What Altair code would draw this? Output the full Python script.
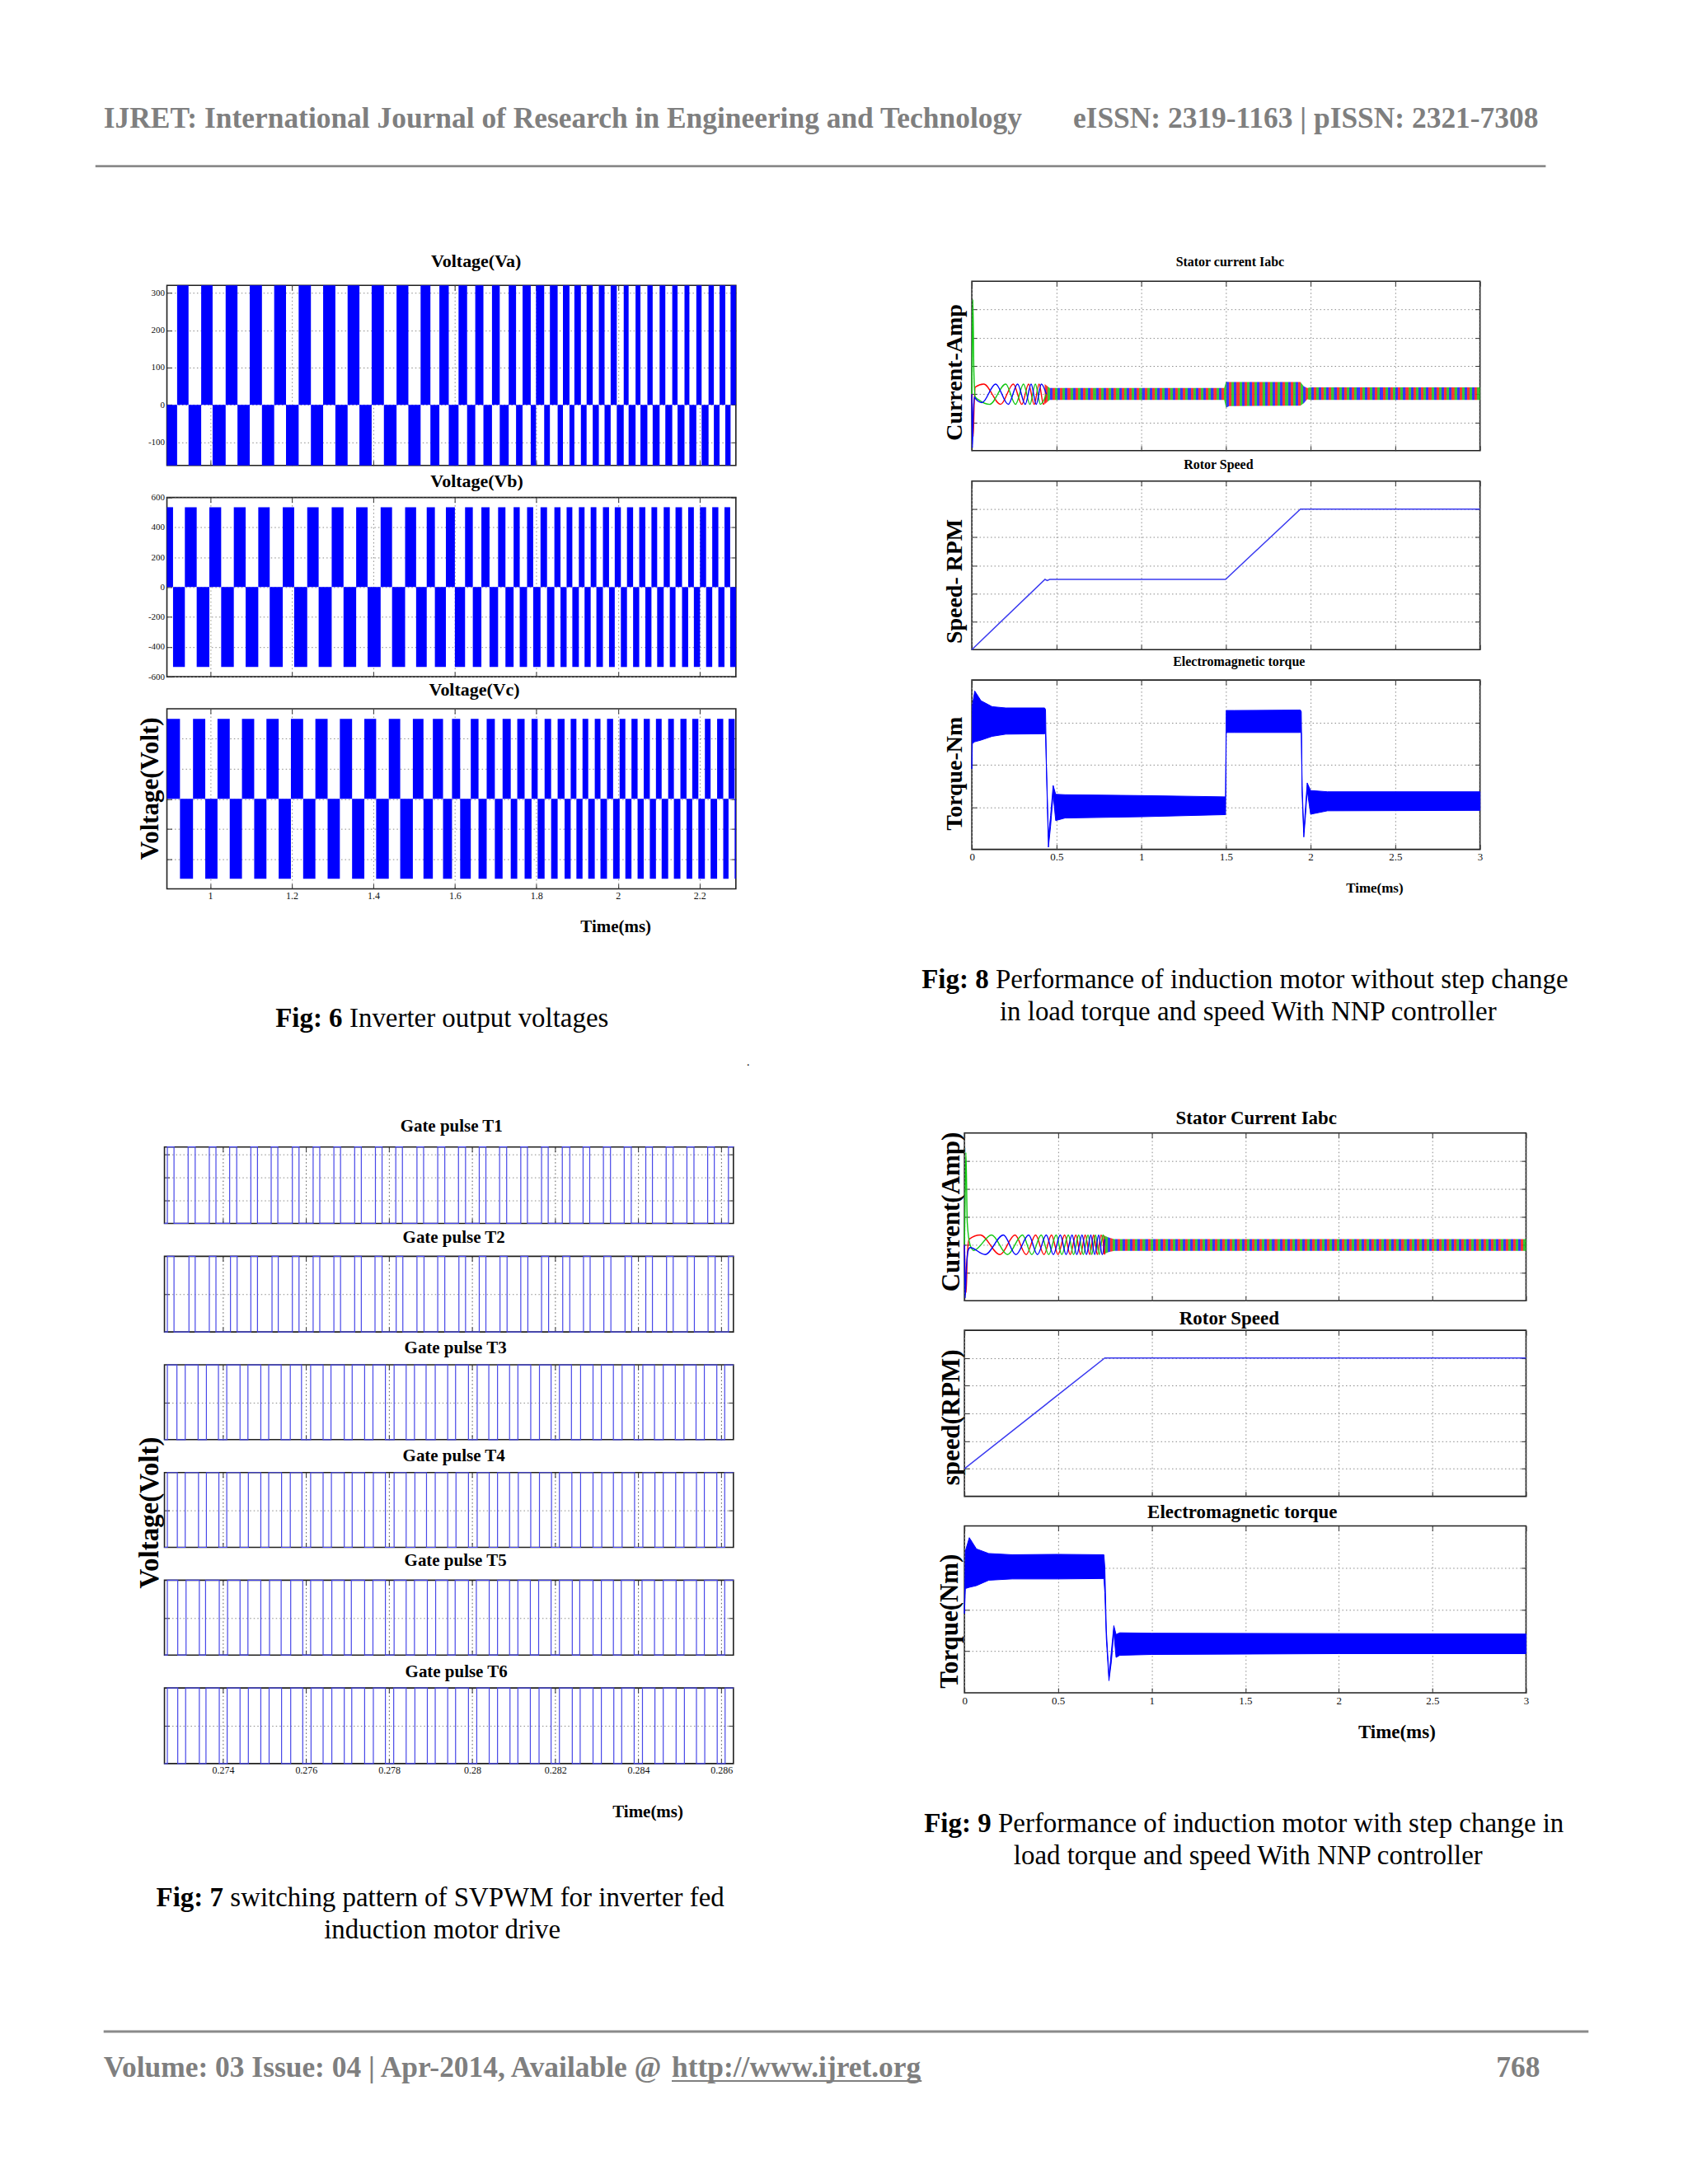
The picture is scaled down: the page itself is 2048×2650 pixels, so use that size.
import altair as alt
import pandas as pd

SERIF = "Liberation Serif"
BLUE = "#0000ff"
GATE_BLUE = "#4848e8"
SPEED_BLUE = "#3a3af0"
RED = "#ff0000"
GREEN = "#12c812"
GRID = "#8a8a8a"
TICK = "#333333"
FRAME = "#202020"
GRAY = "#7f7f7f"

# ---------------- Fig 6: inverter output voltages (switching instants, ms) ----------------
fig6_xdomain = [0.894, 2.289]
fig6_xticks = [1.0, 1.2, 1.4, 1.6, 1.8, 2.0, 2.2]

va_edges = [0.894, 0.919, 0.947, 0.978, 1.006, 1.038, 1.067, 1.097, 1.127, 1.157, 1.186, 1.217,
            1.247, 1.277, 1.307, 1.337, 1.366, 1.396, 1.426, 1.457, 1.486, 1.516, 1.540, 1.562,
            1.585, 1.609, 1.630, 1.650, 1.670, 1.691, 1.710, 1.732, 1.750, 1.766, 1.786, 1.799,
            1.819, 1.833, 1.852, 1.865, 1.881, 1.893, 1.909, 1.923, 1.938, 1.953, 1.967, 1.982,
            1.997, 2.014, 2.026, 2.043, 2.055, 2.072, 2.085, 2.102, 2.116, 2.133, 2.146, 2.163,
            2.175, 2.192, 2.205, 2.222, 2.235, 2.249, 2.263, 2.276, 2.289]
va_starts_high = False
va_levels = [320, -162]
va_ydomain = [-162, 320]
va_yticks = [300, 200, 100, 0, -100]

vb_edges = [0.894, 0.909, 0.938, 0.967, 0.998, 1.027, 1.058, 1.087, 1.118, 1.146, 1.178, 1.206,
            1.238, 1.266, 1.298, 1.327, 1.358, 1.386, 1.418, 1.446, 1.478, 1.505, 1.531, 1.551,
            1.578, 1.600, 1.625, 1.644, 1.665, 1.685, 1.706, 1.724, 1.744, 1.759, 1.777, 1.792,
            1.810, 1.826, 1.844, 1.859, 1.874, 1.888, 1.904, 1.918, 1.933, 1.947, 1.963, 1.978,
            1.992, 2.007, 2.022, 2.037, 2.052, 2.067, 2.082, 2.096, 2.112, 2.127, 2.141, 2.157,
            2.172, 2.186, 2.201, 2.216, 2.231, 2.246, 2.261, 2.275, 2.289]
vb_starts_high = True
vb_levels = [535, -535]
vb_ydomain = [-600, 600]
vb_yticks = [600, 400, 200, 0, -200, -400, -600]

vc_edges = [0.894, 0.926, 0.958, 0.988, 1.018, 1.048, 1.078, 1.108, 1.138, 1.168, 1.198, 1.228,
            1.258, 1.288, 1.318, 1.348, 1.378, 1.407, 1.438, 1.466, 1.497, 1.523, 1.546, 1.571,
            1.593, 1.613, 1.639, 1.658, 1.678, 1.698, 1.717, 1.737, 1.753, 1.771, 1.788, 1.803,
            1.820, 1.836, 1.852, 1.869, 1.884, 1.898, 1.913, 1.927, 1.943, 1.957, 1.973, 1.988,
            2.004, 2.018, 2.033, 2.048, 2.063, 2.078, 2.093, 2.107, 2.123, 2.137, 2.153, 2.168,
            2.182, 2.197, 2.213, 2.227, 2.243, 2.258, 2.271, 2.286, 2.289]
vc_starts_high = True
vc_levels = [533, -533]
vc_ydomain = [-600, 600]
vc_yticks = [400, 200, 0, -200, -400]

# ---------------- Fig 7: gate pulses (edge instants, ms) ----------------
fig7_xdomain = [0.27259, 0.28629]
fig7_xticks = [0.274, 0.276, 0.278, 0.28, 0.282, 0.284, 0.286]
gate_ydomain = [0, 1]
t1_yticks = [0.3, 0.6, 0.9]
gate_yticks = [0.5]

t1_edges = [0.27266, 0.27282, 0.27316, 0.27333, 0.27367, 0.27383, 0.27416, 0.27433, 0.27467, 0.27483,
            0.27516, 0.27532, 0.27567, 0.27583, 0.27617, 0.27633, 0.27667, 0.27683, 0.27717, 0.27733,
            0.27767, 0.27783, 0.27816, 0.27832, 0.27867, 0.27883, 0.27917, 0.27934, 0.27967, 0.27984,
            0.28017, 0.28033, 0.28066, 0.28083, 0.28117, 0.28133, 0.28167, 0.28183, 0.28217, 0.28235,
            0.28267, 0.28283, 0.28316, 0.28333, 0.28366, 0.28383, 0.28418, 0.28434, 0.28467, 0.28484,
            0.28517, 0.28534, 0.28567, 0.28583, 0.28617]
t2_edges = [0.27266, 0.27282, 0.27318, 0.27333, 0.27367, 0.27383, 0.27418, 0.27434, 0.27467, 0.27483,
            0.27518, 0.27533, 0.27567, 0.27583, 0.27617, 0.27633, 0.27667, 0.27683, 0.27717, 0.27733,
            0.27766, 0.27783, 0.27817, 0.27833, 0.27867, 0.27884, 0.27917, 0.27934, 0.27968, 0.27984,
            0.28017, 0.28033, 0.28067, 0.28084, 0.28117, 0.28134, 0.28167, 0.28184, 0.28218, 0.28235,
            0.28268, 0.28284, 0.28317, 0.28334, 0.28368, 0.28384, 0.28418, 0.28434, 0.28468, 0.28484,
            0.28518, 0.28535, 0.28568, 0.28585, 0.28617]
t3_edges = [0.27266, 0.27289, 0.27309, 0.27340, 0.27360, 0.27389, 0.27409, 0.27441, 0.27460, 0.27491,
            0.27510, 0.27540, 0.27562, 0.27589, 0.27611, 0.27641, 0.27660, 0.27692, 0.27711, 0.27741,
            0.27761, 0.27791, 0.27812, 0.27841, 0.27861, 0.27889, 0.27911, 0.27941, 0.27960, 0.27991,
            0.28012, 0.28040, 0.28061, 0.28090, 0.28110, 0.28141, 0.28162, 0.28190, 0.28210, 0.28239,
            0.28261, 0.28291, 0.28311, 0.28340, 0.28361, 0.28390, 0.28411, 0.28439, 0.28460, 0.28489,
            0.28510, 0.28539, 0.28559, 0.28589, 0.28608]
t4_edges = [0.27266, 0.27290, 0.27309, 0.27341, 0.27360, 0.27390, 0.27409, 0.27441, 0.27461, 0.27491,
            0.27510, 0.27541, 0.27562, 0.27590, 0.27611, 0.27641, 0.27661, 0.27692, 0.27711, 0.27741,
            0.27762, 0.27791, 0.27812, 0.27841, 0.27862, 0.27890, 0.27911, 0.27941, 0.27961, 0.27991,
            0.28012, 0.28041, 0.28061, 0.28090, 0.28111, 0.28141, 0.28162, 0.28191, 0.28210, 0.28240,
            0.28261, 0.28291, 0.28312, 0.28340, 0.28361, 0.28391, 0.28411, 0.28440, 0.28460, 0.28490,
            0.28510, 0.28540, 0.28559, 0.28589, 0.28608]
t5_edges = [0.27266, 0.27291, 0.27311, 0.27343, 0.27358, 0.27391, 0.27411, 0.27441, 0.27460, 0.27491,
            0.27512, 0.27540, 0.27563, 0.27592, 0.27611, 0.27641, 0.27662, 0.27692, 0.27709, 0.27741,
            0.27761, 0.27791, 0.27812, 0.27841, 0.27861, 0.27892, 0.27912, 0.27941, 0.27959, 0.27991,
            0.28010, 0.28041, 0.28061, 0.28090, 0.28110, 0.28140, 0.28160, 0.28190, 0.28210, 0.28241,
            0.28259, 0.28291, 0.28311, 0.28340, 0.28359, 0.28390, 0.28409, 0.28439, 0.28460, 0.28491,
            0.28510, 0.28540, 0.28559, 0.28590, 0.28608]
t6_edges = [0.27266, 0.27291, 0.27310, 0.27343, 0.27359, 0.27391, 0.27410, 0.27441, 0.27461, 0.27491,
            0.27511, 0.27541, 0.27563, 0.27592, 0.27612, 0.27641, 0.27662, 0.27692, 0.27710, 0.27741,
            0.27762, 0.27791, 0.27811, 0.27841, 0.27862, 0.27892, 0.27911, 0.27941, 0.27960, 0.27991,
            0.28011, 0.28041, 0.28061, 0.28091, 0.28110, 0.28140, 0.28161, 0.28190, 0.28210, 0.28241,
            0.28260, 0.28291, 0.28311, 0.28341, 0.28360, 0.28390, 0.28410, 0.28440, 0.28460, 0.28491,
            0.28511, 0.28540, 0.28560, 0.28590, 0.28609]

# ---------------- Fig 8 / Fig 9: motor performance (time in ms) ----------------
time_domain = [0, 3]
time_ticks = [0, 0.5, 1, 1.5, 2, 2.5, 3]
current_domain = [-20, 40]
current_ticks = [-10, 0, 10, 20, 30]
speed_domain = [0, 1200]
speed_ticks = [200, 400, 600, 800, 1000]
torque_domain = [-10, 30]
torque_ticks = [0, 10, 20]

# Fig 8 stator currents: start-up transient and first cycles (extrema)
cur8_red_t = [0, 0.004, 0.008, 0.014, 0.02, 0.07, 0.17, 0.245, 0.295, 0.335, 0.368, 0.397, 0.423, 0.44]
cur8_red_v = [0, -8, -15, -3, 2.5, 3.6, -3.6, 3.6, -3.6, 3.6, -3.6, 3.6, -3.6, 0]
cur8_grn_t = [0, 0.003, 0.006, 0.012, 0.02, 0.04, 0.105, 0.2, 0.258, 0.305, 0.343, 0.375, 0.405, 0.44]
cur8_grn_v = [0, 20, 33.5, 8, -1, -2, -3.6, 3.6, -3.6, 3.6, -3.6, 3.6, -3.6, 0]
cur8_blu_t = [0, 0.003, 0.008, 0.015, 0.02, 0.06, 0.14, 0.215, 0.27, 0.315, 0.35, 0.38, 0.41, 0.44]
cur8_blu_v = [0, -19, -8, -1, -1.5, -3, 3.6, -3.6, 3.6, -3.6, 3.6, -3.6, 3.6, 0]
# Fig 8 stator currents: envelope of the dense steady-state part
cur8_band_t = [0.43, 0.46, 1.49, 1.50, 1.52, 1.94, 1.96, 1.98, 2.0, 3.0]
cur8_band_hi = [3.6, 2.2, 2.2, 4.4, 4.3, 4.3, 2.8, 2.2, 2.4, 2.4]
cur8_band_lo = [-3.6, -2.0, -2.0, -4.8, -4.2, -4.1, -3.2, -1.8, -2.0, -2.0]
# Fig 8 rotor speed
spd8_t = [0, 0.432, 0.445, 0.46, 1.498, 1.94, 3.0]
spd8_v = [0, 500, 492, 500, 500, 1000, 1000]
# Fig 8 electromagnetic torque envelope
tq8_t = [0, 0.003, 0.017, 0.054, 0.12, 0.2, 0.43, 0.435, 0.44, 0.452, 0.465, 0.48, 0.495, 0.55,
         1.0, 1.498, 1.502, 1.55, 1.94, 1.945, 1.95, 1.96, 1.97, 1.98, 2.0, 2.1, 3.0]
tq8_hi = [10, 24, 27.4, 25.1, 23.7, 23.4, 23.4, 23.0, 10.5, -7.0, -2.0, 5.1, 3.0, 2.9,
          2.7, 2.4, 22.8, 22.8, 22.9, 22.5, 5, -6, 0, 5.7, 3.9, 3.6, 3.6]
tq8_lo = [9, 15, 15.4, 15.8, 16.7, 17.2, 17.3, 17.3, 9.5, -9.5, -4.5, 3.0, -3.2, -2.6,
          -2.3, -1.8, 17.6, 17.6, 17.6, 17.6, 3, -7.1, -2, 4.0, -1.7, -0.9, -0.8]

# Fig 9 stator currents
cur9_red_t = [0, 0.004, 0.009, 0.015, 0.025, 0.085, 0.19, 0.27, 0.33, 0.38, 0.425, 0.465, 0.50,
              0.535, 0.565, 0.595, 0.62, 0.645, 0.67, 0.69, 0.71, 0.73, 0.75]
cur9_red_v = [0, -10, -17, -4, 2, 3.5, -3.5, 3.5, -3.5, 3.5, -3.5, 3.5, -3.5,
              3.5, -3.5, 3.5, -3.5, 3.5, -3.5, 3.5, -3.5, 3.5, -3.5]
cur9_grn_t = [0, 0.004, 0.008, 0.015, 0.03, 0.05, 0.145, 0.23, 0.31, 0.36, 0.41, 0.45, 0.49, 0.52,
              0.555, 0.583, 0.61, 0.635, 0.66, 0.68, 0.70, 0.72, 0.74, 0.75]
cur9_grn_v = [0, 18, 33, 8, 0, -2, 3.5, -3.5, 3.5, -3.5, 3.5, -3.5, 3.5, -3.5,
              3.5, -3.5, 3.5, -3.5, 3.5, -3.5, 3.5, -3.5, 3.5, 2]
cur9_blu_t = [0, 0.004, 0.01, 0.02, 0.03, 0.11, 0.208, 0.275, 0.343, 0.39, 0.437, 0.475, 0.512,
              0.543, 0.575, 0.60, 0.628, 0.652, 0.675, 0.696, 0.717, 0.736, 0.75]
cur9_blu_v = [0, -19, -9, -2, -1, -3.5, 3.5, -3.5, 3.5, -3.5, 3.5, -3.5, 3.5,
              -3.5, 3.5, -3.5, 3.5, -3.5, 3.5, -3.5, 3.5, -3.5, 2]
cur9_band_t = [0.74, 0.77, 0.8, 3.0]
cur9_band_hi = [3.5, 2.6, 2.0, 2.0]
cur9_band_lo = [-3.5, -2.6, -2.2, -2.2]
# Fig 9 rotor speed
spd9_t = [0, 0.75, 3.0]
spd9_v = [200, 1000, 1000]
# Fig 9 electromagnetic torque envelope
tq9_t = [0, 0.005, 0.026, 0.064, 0.13, 0.255, 0.5, 0.745, 0.75, 0.758, 0.772, 0.785, 0.798, 0.81,
         0.83, 1.0, 2.0, 3.0]
tq9_hi = [10, 24, 27.2, 24.5, 23.4, 23.1, 23.2, 23.1, 20, 5, -6, 0, 6.1, 4.0, 4.4, 4.3, 4.2, 4.1]
tq9_lo = [9, 15, 15.3, 15.7, 17.0, 17.3, 17.3, 17.4, 14, 3, -7.1, -2.5, 4.5, -1.5, -1.0, -0.8, -0.6, -0.6]

# ---------------- helpers ----------------
ONE = pd.DataFrame({"k": [0]})
M = 8  # page margin
VIEW = alt.ViewBackground(stroke=FRAME, strokeWidth=1.6)


def sc(domain):
    return alt.Scale(domain=domain, nice=False, zero=False)


def make_axis(values, show, size, grid_color=GRID):
    kw = dict(values=values, title=None, domain=False, grid=True, gridColor=grid_color, gridDash=[1.5, 3],
              gridWidth=1, ticks=True, tickSize=6, tickColor=TICK, offset=-6, labels=show)
    if show:
        kw.update(labelFont=SERIF, labelFontSize=size, labelColor="#111", labelPadding=3,
                  labelExpr="datum.value", labelOverlap=False, labelFlush=False)
    return alt.Axis(**kw)


def box_axis(values, orient):
    # inward ticks on the top / right side of the MATLAB box
    return alt.Axis(values=values, orient=orient, title=None, domain=False, grid=False, labels=False,
                    ticks=True, tickSize=6, tickColor=TICK, offset=-6)


def mirror(df, xf, yf, xdom, ydom, xticks, yticks):
    return alt.Chart(df).mark_point(opacity=0, size=1).encode(
        x=alt.X(xf, scale=sc(xdom), axis=box_axis(xticks, "top")),
        y=alt.Y(yf, scale=sc(ydom), axis=box_axis(yticks, "right")),
    )


def boxed(layers, w, h):
    return alt.layer(*layers).resolve_axis(x="independent", y="independent").properties(
        width=w, height=h, view=VIEW)


def seg_frame(edges, starts_high, levels):
    t0, t1, v1 = [], [], []
    for i in range(len(edges) - 1):
        high = (i % 2 == 0) == starts_high
        t0.append(edges[i])
        t1.append(edges[i + 1])
        v1.append(levels[0] if high else levels[1])
    return pd.DataFrame({"t0": t0, "t1": t1, "v0": [0] * len(t0), "v1": v1})


def step_frame(edges, domain):
    t, v, lvl = [domain[0]], [0], 0
    for e in edges:
        lvl = 1 - lvl
        t.append(e)
        v.append(lvl)
    t.append(domain[1])
    v.append(lvl)
    return pd.DataFrame({"t": t, "v": v})


def stripes(n):
    cols = ["#ff1f1f", "#22c022", "#2222ff"]
    stops = []
    for k in range(n):
        c = cols[k % 3]
        stops.append(alt.GradientStop(color=c, offset=k / n))
        stops.append(alt.GradientStop(color=c, offset=(k + 1) / n - 0.0001))
    return alt.LinearGradient(gradient="linear", stops=stops, x1=0, x2=1, y1=0, y2=0)


def volt_panel(edges, starts_high, levels, ydom, yticks, ylabels, xlabels, w, h):
    df = seg_frame(edges, starts_high, levels)
    main = alt.Chart(df).mark_rect(color=BLUE).encode(
        x=alt.X("t0:Q", scale=sc(fig6_xdomain), axis=make_axis(fig6_xticks, xlabels, 12)),
        x2="t1:Q",
        y=alt.Y("v0:Q", scale=sc(ydom), axis=make_axis(yticks, ylabels, 11)),
        y2="v1:Q",
    )
    return boxed([main, mirror(df, "t0:Q", "v0:Q", fig6_xdomain, ydom, fig6_xticks, yticks)], w, h)


def gate_panel(edges, yticks, xlabels, w, h):
    df = step_frame(edges, fig7_xdomain)
    main = alt.Chart(df).mark_line(interpolate="step-after", color=GATE_BLUE, strokeWidth=1.2).encode(
        x=alt.X("t:Q", scale=sc(fig7_xdomain), axis=make_axis(fig7_xticks, xlabels, 12, "#555555")),
        y=alt.Y("v:Q", scale=sc(gate_ydomain), axis=make_axis(yticks, False, 11)),
    )
    return boxed([main, mirror(df, "t:Q", "v:Q", fig7_xdomain, gate_ydomain, fig7_xticks, yticks)], w, h)


def tx(show, with_axis=True):
    return alt.X("t:Q", scale=sc(time_domain),
                 axis=make_axis(time_ticks, show, 13) if with_axis else None)


def ty(dom, ticks, with_axis=True):
    return alt.Y("v:Q", scale=sc(dom), axis=make_axis(ticks, False, 11) if with_axis else None)


def current_panel(lines, band, n, w, h):
    bdf = pd.DataFrame({"t": band[0], "v": band[1], "v2": band[2]})
    layers = [alt.Chart(bdf).mark_area(color=stripes(n), opacity=0.9).encode(
        x=tx(False), y=ty(current_domain, current_ticks), y2="v2:Q")]
    for ts, vs, col in lines:
        layers.append(alt.Chart(pd.DataFrame({"t": ts, "v": vs})).mark_line(
            color=col, strokeWidth=1.4, interpolate="monotone").encode(
            x=tx(False, False), y=ty(current_domain, current_ticks, False)))
    layers.append(mirror(bdf, "t:Q", "v:Q", time_domain, current_domain, time_ticks, current_ticks))
    return boxed(layers, w, h)


def speed_panel(ts, vs, w, h):
    df = pd.DataFrame({"t": ts, "v": vs})
    main = alt.Chart(df).mark_line(color=SPEED_BLUE, strokeWidth=1.5).encode(
        x=tx(False), y=ty(speed_domain, speed_ticks))
    return boxed([main, mirror(df, "t:Q", "v:Q", time_domain, speed_domain, time_ticks, speed_ticks)], w, h)


def torque_panel(ts, hi, lo, w, h):
    df = pd.DataFrame({"t": ts, "v": hi, "v2": lo})
    main = alt.Chart(df).mark_area(color=BLUE, stroke=BLUE, strokeWidth=1).encode(
        x=tx(True), y=ty(torque_domain, torque_ticks), y2="v2:Q")
    return boxed([main, mirror(df, "t:Q", "v:Q", time_domain, torque_domain, time_ticks, torque_ticks)], w, h)


def spacer(w, h):
    return alt.Chart(ONE).mark_point(opacity=0).encode(
        x=alt.value(0), y=alt.value(0)).properties(width=w, height=h)


def row(panel, page_x, h):
    return alt.hconcat(spacer(page_x - M, h), panel, spacing=0, bounds="flush")


def txt(text, x, y, size, weight="normal", align="center", angle=0, color="#000000"):
    kw = dict(text=text, fontSize=size, fontWeight=weight, align=align, baseline="middle",
              font=SERIF, color=color)
    if angle:
        kw["angle"] = angle
    return alt.Chart(ONE).mark_text(**kw).encode(x=alt.value(x - M), y=alt.value(y - M))


def hrule(x1, x2, y, width, color):
    return alt.Chart(ONE).mark_rule(color=color, strokeWidth=width).encode(
        x=alt.value(x1 - M), x2=alt.value(x2 - M), y=alt.value(y - M))


# ---------------- panels ----------------
W6, W7, W8, W9 = 692, 692, 618, 683
va = volt_panel(va_edges, va_starts_high, va_levels, va_ydomain, va_yticks, True, False, W6, 219)
vb = volt_panel(vb_edges, vb_starts_high, vb_levels, vb_ydomain, vb_yticks, True, False, W6, 218)
vc = volt_panel(vc_edges, vc_starts_high, vc_levels, vc_ydomain, vc_yticks, False, True, W6, 219)

g1 = gate_panel(t1_edges, t1_yticks, False, W7, 93)
g2 = gate_panel(t2_edges, gate_yticks, False, W7, 92)
g3 = gate_panel(t3_edges, gate_yticks, False, W7, 91)
g4 = gate_panel(t4_edges, gate_yticks, False, W7, 91)
g5 = gate_panel(t5_edges, gate_yticks, False, W7, 91)
g6 = gate_panel(t6_edges, gate_yticks, True, W7, 92)

i8 = current_panel([(cur8_red_t, cur8_red_v, RED), (cur8_grn_t, cur8_grn_v, GREEN), (cur8_blu_t, cur8_blu_v, BLUE)],
                   (cur8_band_t, cur8_band_hi, cur8_band_lo), 170, W8, 206)
s8 = speed_panel(spd8_t, spd8_v, W8, 205)
q8 = torque_panel(tq8_t, tq8_hi, tq8_lo, W8, 206)

i9 = current_panel([(cur9_red_t, cur9_red_v, RED), (cur9_grn_t, cur9_grn_v, GREEN), (cur9_blu_t, cur9_blu_v, BLUE)],
                   (cur9_band_t, cur9_band_hi, cur9_band_lo), 170, W9, 204)
s9 = speed_panel(spd9_t, spd9_v, W9, 202)
q9 = torque_panel(tq9_t, tq9_hi, tq9_lo, W9, 203)

# (page y of panel top, row) in reading order of the page
placements = [
    (338, row(i8, 1178, 206)),
    (343, row(va, 199, 219)),
    (581, row(s8, 1178, 205)),
    (601, row(vb, 199, 218)),
    (823, row(q8, 1178, 206)),
    (858, row(vc, 199, 219)),
    (1374, row(i9, 1169, 204)),
    (1391, row(g1, 196, 93)),
    (1524, row(g2, 196, 92)),
    (1614, row(s9, 1169, 202)),
    (1656, row(g3, 196, 91)),
    (1787, row(g4, 196, 91)),
    (1852, row(q9, 1169, 203)),
    (1918, row(g5, 196, 91)),
    (2049, row(g6, 196, 92)),
]

# ---------------- page text ----------------
notes = [
    txt("IJRET: International Journal of Research in Engineering and Technology", 122, 140, 35.5, "bold", "left", color=GRAY),
    txt("eISSN: 2319-1163 | pISSN: 2321-7308", 1867, 140, 35.5, "bold", "right", color=GRAY),
    hrule(112, 1876, 198, 3, "#8a8a8a"),
    # Fig 6
    txt("Voltage(Va)", 575, 314, 22, "bold"),
    txt("Voltage(Vb)", 576, 581, 22, "bold"),
    txt("Voltage(Vc)", 573, 835, 22, "bold"),
    txt("Voltage(Volt)", 179, 955, 31, "bold", angle=270),
    txt("Time(ms)", 745, 1124, 21, "bold"),
    txt("Fig: 6", 331, 1235, 33, "bold", "left"),
    txt("Inverter output voltages", 421, 1235, 33, "normal", "left"),
    # Fig 7
    txt("Gate pulse T1", 545, 1366, 21, "bold"),
    txt("Gate pulse T2", 548, 1502, 21, "bold"),
    txt("Gate pulse T3", 550, 1636, 21, "bold"),
    txt("Gate pulse T4", 548, 1767, 21, "bold"),
    txt("Gate pulse T5", 550, 1895, 21, "bold"),
    txt("Gate pulse T6", 551, 2030, 21, "bold"),
    txt("Voltage(Volt)", 178, 1836, 33, "bold", angle=270),
    txt("Time(ms)", 784, 2200, 21, "bold"),
    txt("Fig: 7", 186, 2305, 33, "bold", "left"),
    txt("switching pattern of SVPWM for inverter fed", 276, 2305, 33, "normal", "left"),
    txt("induction motor drive", 534, 2344, 33),
    txt(".", 906, 1288, 14),
    # Fig 8
    txt("Stator current Iabc", 1492, 315, 16, "bold"),
    txt("Rotor Speed", 1478, 561, 16, "bold"),
    txt("Electromagnetic torque", 1503, 801, 16, "bold"),
    txt("Current-Amp", 1158, 449, 28, "bold", angle=270),
    txt("Speed- RPM", 1158, 703, 28, "bold", angle=270),
    txt("Torque-Nm", 1158, 937, 28, "bold", angle=270),
    txt("Time(ms)", 1668, 1077, 17, "bold"),
    txt("Fig: 8", 1117, 1188, 33, "bold", "left"),
    txt("Performance of induction motor without step change", 1207, 1188, 33, "normal", "left"),
    txt("in load torque and speed With NNP controller", 1514, 1227, 33),
    # Fig 9
    txt("Stator Current Iabc", 1524, 1356, 23, "bold"),
    txt("Rotor Speed", 1491, 1600, 23, "bold"),
    txt("Electromagnetic torque", 1507, 1835, 23, "bold"),
    txt("Current(Amp)", 1154, 1470, 31, "bold", angle=270),
    txt("speed(RPM)", 1154, 1720, 31, "bold", angle=270),
    txt("Torque(Nm)", 1152, 1968, 31, "bold", angle=270),
    txt("Time(ms)", 1695, 2103, 23, "bold"),
    txt("Fig: 9", 1120, 2214, 33, "bold", "left"),
    txt("Performance of induction motor with step change in", 1210, 2214, 33, "normal", "left"),
    txt("load torque and speed With NNP controller", 1514, 2253, 33),
    # footer
    hrule(122, 1928, 2467, 3, "#8a8a8a"),
    txt("Volume: 03 Issue: 04 | Apr-2014, Available @", 122, 2511, 35.5, "bold", "left", color=GRAY),
    txt("http://www.ijret.org", 813, 2511, 35.5, "bold", "left", color=GRAY),
    hrule(813, 1117, 2527, 2, GRAY),
    txt("768", 1869, 2511, 35.5, "bold", "right", color=GRAY),
]
annot = alt.layer(*notes).properties(width=2032, height=330)

# nested rows take no height in a flush stack, so the spacers set each row's top
items = [annot]
cursor = 338
for top, r in placements:
    if top > cursor:
        items.append(spacer(1, top - cursor))
        cursor = top
    items.append(r)

chart = alt.vconcat(*items, spacing=0, bounds="flush").properties(
    padding=0, background="white"
).configure_view(stroke="transparent")

chart.save("out.html", embed_options={"renderer": "svg", "actions": False})
